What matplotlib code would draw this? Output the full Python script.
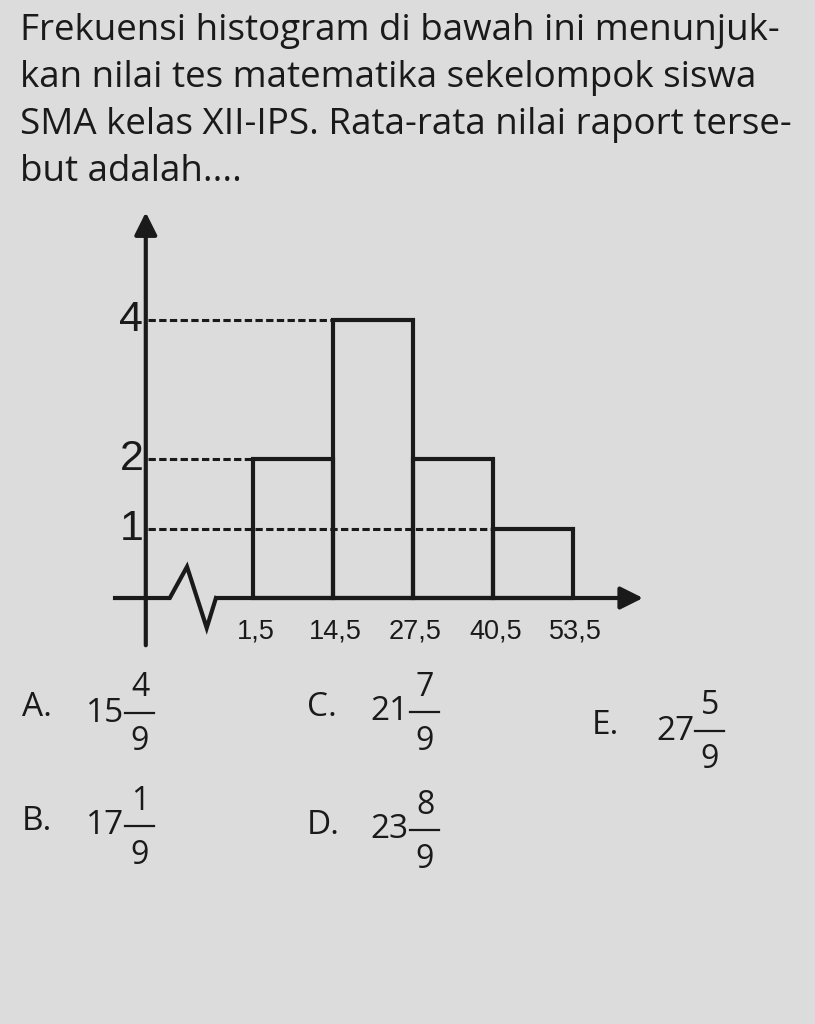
import numpy as np
import matplotlib

matplotlib.use("Agg")
import matplotlib.pyplot as plt
from matplotlib.lines import Line2D

# ----------------- DATA -----------------
edges = [1.5, 14.5, 27.5, 40.5, 53.5]
freq = [2, 4, 2, 1]
y_ticks = [4, 2, 1]

question = [
    "Frekuensi histogram di bawah ini menunjuk-",
    "kan nilai tes matematika sekelompok siswa",
    "SMA kelas XII-IPS. Rata-rata nilai raport terse-",
    "but adalah....",
]
opt_letters = ["A.", "B.", "C.", "D.", "E."]
opt_whole = [15, 17, 21, 23, 27]
opt_num = [4, 1, 7, 8, 5]
opt_den = [9, 9, 9, 9, 9]
# ----------------------------------------

W, H = 815, 1024
BG = "#dcdcdc"
INK = "#1a1a1a"
TXT_FONT = ["Open Sans", "DejaVu Sans"]
CHART_FONT = ["Liberation Sans", "DejaVu Sans"]

fig = plt.figure(figsize=(W / 100, H / 100), dpi=100)
fig.patch.set_facecolor(BG)


def fx(px):
    return px / W


def fy(py):
    return 1 - py / H


# question text
for i, line in enumerate(question):
    fig.text(fx(20), fy(40 + 47 * i), line, ha="left", va="baseline",
             fontsize=26.5, color=INK, family=TXT_FONT)

# ----------------- HISTOGRAM -----------------
ax = fig.add_axes([fx(100), fy(660), fx(560), 460 / H])
ax.set_xlim(-23.44, 67.56)
ax.set_ylim(-0.892, 5.727)
ax.axis("off")

axis_x = -16.0
lw_ax = 3

# y axis (goes a bit below the x axis)
ax.annotate("", xy=(axis_x, 5.55), xytext=(axis_x, -0.68),
            arrowprops=dict(arrowstyle="-|>", color=INK, lw=lw_ax,
                            mutation_scale=34, shrinkA=0, shrinkB=0))

# x axis with break
brk_x = [-21.0, -12.1, -9.3, -6.1, -4.6]
brk_y = [0, 0, 0.45, -0.43, 0]
ax.plot(brk_x, brk_y, color=INK, lw=lw_ax, solid_joinstyle="miter")
ax.annotate("", xy=(64.8, 0), xytext=(brk_x[-1], 0),
            arrowprops=dict(arrowstyle="-|>", color=INK, lw=lw_ax,
                            mutation_scale=34, shrinkA=0, shrinkB=0))

# bars
ax.bar(edges[:-1], freq, width=np.diff(edges), align="edge", fill=False,
       edgecolor=INK, linewidth=3)

# dashed guides from the axis to the first bar of that height
for lvl in y_ticks:
    first = freq.index(lvl)
    ax.hlines(lvl, axis_x + 0.4, edges[first], colors=INK, lw=2.2,
              linestyles=(0, (2.4, 1.1)))
    ax.text(axis_x - 0.4, lvl, str(lvl), ha="right", va="center",
            fontsize=31, color=INK, family=CHART_FONT)

for e in edges:
    ax.text(e + 0.3, -0.48, f"{e:.1f}".replace(".", ","), ha="center",
            va="center", fontsize=19.5, color=INK, family=CHART_FONT)

# ----------------- ANSWERS -----------------
opt_pos = [(22, 708), (22, 821), (307, 707), (307, 825), (592, 726)]


def mixed(x, y, letter, whole, num, den):
    fig.text(fx(x), fy(y), letter, ha="left", va="center", fontsize=24,
             color=INK, family=TXT_FONT)
    bx = x + 103
    by = y + 5
    fig.text(fx(bx - 1), fy(by), str(whole), ha="right", va="center",
             fontsize=24, color=INK, family=TXT_FONT)
    fig.add_artist(Line2D([fx(bx), fx(bx + 29)], [fy(by), fy(by)],
                          color=INK, lw=1.6))
    fig.text(fx(bx + 15), fy(by - 25), str(num), ha="center", va="center",
             fontsize=23, color=INK, family=TXT_FONT)
    fig.text(fx(bx + 15), fy(by + 29), str(den), ha="center", va="center",
             fontsize=23, color=INK, family=TXT_FONT)


for (x, y), l, w, n, d in zip(opt_pos, opt_letters, opt_whole, opt_num, opt_den):
    mixed(x, y, l, w, n, d)

fig.savefig("out.png", dpi=100, facecolor=fig.get_facecolor())
